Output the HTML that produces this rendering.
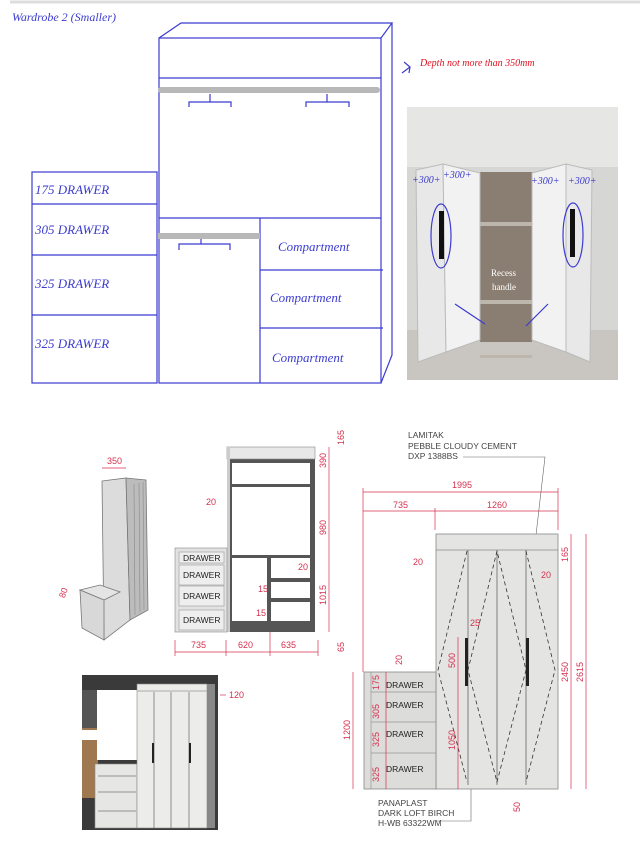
<!DOCTYPE html>
<html><head><meta charset="utf-8"><style>
html,body{margin:0;padding:0;background:#fff;}
svg{display:block}
</style></head><body>
<svg width="640" height="853" viewBox="0 0 640 853" xmlns="http://www.w3.org/2000/svg" font-family="Liberation Sans, sans-serif">
<rect width="640" height="853" fill="#fff"/>
<line x1="10" y1="2" x2="640" y2="2" stroke="#ddd" stroke-width="3"/>
<!-- Sketch -->
<g stroke="#3b3bd0" stroke-width="1.2" fill="none">
<rect x="159" y="38" width="222" height="345"/>
<polyline points="159,38 181,23 392,23 381,38"/>
<polyline points="392,23 392,355 381,383"/>
<line x1="159" y1="78" x2="381" y2="78"/>
<line x1="159" y1="218" x2="381" y2="218"/>
<line x1="260" y1="218" x2="260" y2="383"/>
<line x1="260" y1="270" x2="383" y2="270"/>
<line x1="260" y1="328" x2="383" y2="328"/>
<rect x="32" y="172" width="125" height="211"/>
<line x1="32" y1="204" x2="157" y2="204"/>
<line x1="32" y1="255" x2="157" y2="255"/>
<line x1="32" y1="315" x2="157" y2="315"/>
<path d="M189,107 v-5 h42 v5 M210,102 v-8"/>
<path d="M306,107 v-5 h43 v5 M327,102 v-8"/>
<path d="M179,250 v-6 h51 v6 M201,244 v-7"/>
<path d="M402,73 l8,-6 M404,62 l6,5 l-1,6"/>
</g>
<rect x="158" y="87" width="222" height="6" rx="3" fill="#b8b8b8"/>
<rect x="158" y="233" width="102" height="6" fill="#b8b8b8"/>
<g fill="#3b3bd0" font-size="13" font-family="Liberation Serif, serif" font-style="italic">
<text x="12" y="21" font-size="12">Wardrobe 2 (Smaller)</text>
<text x="35" y="194">175  DRAWER</text>
<text x="35" y="234">305  DRAWER</text>
<text x="35" y="288">325  DRAWER</text>
<text x="35" y="348">325  DRAWER</text>
<text x="278" y="251">Compartment</text>
<text x="270" y="302">Compartment</text>
<text x="272" y="362">Compartment</text>
</g>
<text x="420" y="66" fill="#e01020" font-size="10" font-style="italic" font-family="Liberation Serif, serif">Depth not more than 350mm</text>
<!-- Photo -->
<rect x="407" y="107" width="211" height="273" fill="#d6d6d4"/>
<rect x="407" y="107" width="211" height="60" fill="#e6e6e4"/>
<rect x="407" y="330" width="211" height="50" fill="#c9c6c2"/>
<rect x="480" y="172" width="52" height="170" fill="#8a7e72"/>
<g fill="#bdb6ad"><rect x="480" y="222" width="52" height="4"/><rect x="480" y="300" width="52" height="4"/><rect x="480" y="355" width="52" height="3"/></g>
<polygon points="416,170 443,164 446,352 418,362" fill="#e8e8e8" stroke="#bbb"/>
<polygon points="443,164 480,173 480,340 446,352" fill="#f2f2f2" stroke="#bbb"/>
<polygon points="532,173 566,164 566,352 532,340" fill="#f2f2f2" stroke="#bbb"/>
<polygon points="566,164 592,170 590,362 566,352" fill="#e8e8e8" stroke="#bbb"/>
<rect x="439" y="211" width="5" height="48" fill="#111"/>
<rect x="570" y="209" width="5" height="48" fill="#111"/>
<g stroke="#3b3bd0" fill="none" stroke-width="1.2"><ellipse cx="441" cy="236" rx="10" ry="32"/><ellipse cx="573" cy="235" rx="10" ry="32"/><path d="M455,304 l30,20 M548,304 l-22,22"/></g>
<g fill="#3b3bd0" font-size="10" font-style="italic" font-family="Liberation Serif, serif"><text x="412" y="183">+300+</text><text x="443" y="178">+300+</text><text x="531" y="184">+300+</text><text x="568" y="184">+300+</text></g>
<text x="491" y="276" fill="#fff" font-size="9" font-family="Liberation Serif, serif">Recess</text>
<text x="492" y="290" fill="#fff" font-size="9" font-family="Liberation Serif, serif">handle</text>

<!-- Isometric -->
<polygon points="102,481 126,478 130,620 104,640" fill="#dcdcdc" stroke="#777" stroke-width="0.8"/>
<polygon points="126,478 146,480 148,610 130,620" fill="#bcbcbc" stroke="#777" stroke-width="0.8"/>
<polygon points="80,590 100,585 120,592 104,600" fill="#e4e4e4" stroke="#777" stroke-width="0.8"/>
<polygon points="80,590 104,600 104,640 82,628" fill="#d8d8d8" stroke="#777" stroke-width="0.8"/>
<g stroke="#888" stroke-width="0.6"><line x1="134" y1="484" x2="135" y2="615"/><line x1="139" y1="483" x2="140" y2="612"/><line x1="143" y1="482" x2="144" y2="610"/></g>
<g fill="#d6304f" font-size="9"><text x="107" y="464">350</text><text x="60" y="596" transform="rotate(-70 64 594)">80</text></g>
<line x1="102" y1="468" x2="126" y2="468" stroke="#d6304f" stroke-width="0.7"/>

<!-- Middle elevation -->
<rect x="227" y="447" width="88" height="185" fill="#555"/>
<rect x="227" y="447" width="88" height="12" fill="#e8e8e8" stroke="#888" stroke-width="0.6"/>
<rect x="232" y="463" width="78" height="21" fill="#fff"/>
<rect x="232" y="487" width="78" height="68" fill="#fff"/>
<rect x="232" y="558" width="35" height="63" fill="#fff"/>
<rect x="271" y="558" width="39" height="20" fill="#fff"/>
<rect x="271" y="582" width="39" height="16" fill="#fff"/>
<rect x="271" y="602" width="39" height="19" fill="#fff"/>
<rect x="227" y="447" width="3" height="185" fill="#ccc"/>
<rect x="175" y="548" width="52" height="84" fill="#e2e2e2" stroke="#888" stroke-width="0.6"/>
<g fill="#eee" stroke="#999" stroke-width="0.6"><rect x="179" y="552" width="45" height="11"/><rect x="179" y="565" width="45" height="20"/><rect x="179" y="586" width="45" height="20"/><rect x="179" y="610" width="45" height="20"/></g>
<g font-size="8.5" fill="#222"><text x="183" y="561">DRAWER</text><text x="183" y="578">DRAWER</text><text x="183" y="599">DRAWER</text><text x="183" y="623">DRAWER</text></g>
<g stroke="#d6304f" stroke-width="0.7" fill="none"><line x1="175" y1="652" x2="318" y2="652"/><line x1="175" y1="640" x2="175" y2="656"/><line x1="226" y1="640" x2="226" y2="656"/><line x1="270" y1="632" x2="270" y2="656"/><line x1="318" y1="640" x2="318" y2="656"/><line x1="329" y1="447" x2="329" y2="632"/></g>
<g fill="#d6304f" font-size="9"><text x="191" y="648">735</text><text x="238" y="648">620</text><text x="281" y="648">635</text><text x="206" y="505">20</text><text x="298" y="570">20</text><text x="258" y="592">15</text><text x="256" y="616">15</text>
<text transform="translate(326,468) rotate(-90)">390</text><text transform="translate(326,535) rotate(-90)">980</text><text transform="translate(326,605) rotate(-90)">1015</text><text transform="translate(344,445) rotate(-90)">165</text><text transform="translate(344,652) rotate(-90)">65</text></g>

<!-- Right elevation -->
<g fill="#444" font-size="8.5"><text x="408" y="438">LAMITAK</text><text x="408" y="449">PEBBLE CLOUDY CEMENT</text><text x="408" y="459">DXP 1388BS</text><text x="378" y="806">PANAPLAST</text><text x="378" y="816">DARK LOFT BIRCH</text><text x="378" y="826">H-WB 63322WM</text></g>
<path d="M463,457 h82 l-9,78" stroke="#666" fill="none" stroke-width="0.6"/>
<path d="M437,821 h34 v-40" stroke="#666" fill="none" stroke-width="0.6"/>
<rect x="436" y="534" width="122" height="255" fill="#e4e4e2" stroke="#888" stroke-width="0.8"/>
<line x1="436" y1="550" x2="558" y2="550" stroke="#888" stroke-width="0.8"/>
<g stroke="#666" stroke-width="0.8"><line x1="468" y1="550" x2="468" y2="785"/><line x1="497" y1="550" x2="497" y2="785"/><line x1="526" y1="550" x2="526" y2="785"/></g>
<rect x="465" y="638" width="3" height="48" fill="#222"/><rect x="526" y="638" width="3" height="48" fill="#222"/>
<g stroke="#333" stroke-width="0.8" stroke-dasharray="4,3" fill="none"><polyline points="467,551 438,670 467,782"/><polyline points="497,551 468,670 497,782 526,670 497,551"/><polyline points="526,551 555,670 526,782"/></g>
<rect x="364" y="672" width="72" height="117" fill="#dcdcda" stroke="#888" stroke-width="0.8"/>
<g stroke="#999" stroke-width="0.7"><line x1="371" y1="692" x2="436" y2="692"/><line x1="371" y1="722" x2="436" y2="722"/><line x1="371" y1="753" x2="436" y2="753"/><line x1="371" y1="672" x2="371" y2="789"/></g>
<g font-size="8.5" fill="#222"><text x="386" y="688">DRAWER</text><text x="386" y="708">DRAWER</text><text x="386" y="737">DRAWER</text><text x="386" y="772">DRAWER</text></g>
<g stroke="#d6304f" stroke-width="0.7" fill="none"><line x1="363" y1="492" x2="558" y2="492"/><line x1="363" y1="511" x2="558" y2="511"/><line x1="363" y1="488" x2="363" y2="672"/><line x1="435" y1="508" x2="435" y2="530"/><line x1="558" y1="488" x2="558" y2="530"/><line x1="571" y1="534" x2="571" y2="789"/><line x1="586" y1="534" x2="586" y2="789"/><line x1="353" y1="672" x2="353" y2="789"/><line x1="458" y1="637" x2="458" y2="789"/><line x1="386" y1="672" x2="386" y2="789"/></g>
<g fill="#d6304f" font-size="9"><text x="452" y="488">1995</text><text x="393" y="508">735</text><text x="487" y="508">1260</text><text x="413" y="565">20</text><text x="541" y="578">20</text><text x="470" y="626">25</text>
<text transform="translate(568,562) rotate(-90)">165</text><text transform="translate(568,682) rotate(-90)">2450</text><text transform="translate(583,682) rotate(-90)">2615</text><text transform="translate(350,740) rotate(-90)">1200</text><text transform="translate(455,668) rotate(-90)">500</text><text transform="translate(455,750) rotate(-90)">1050</text><text transform="translate(402,665) rotate(-90)">20</text><text transform="translate(379,690) rotate(-90)">175</text><text transform="translate(379,719) rotate(-90)">305</text><text transform="translate(379,747) rotate(-90)">325</text><text transform="translate(379,782) rotate(-90)">325</text><text transform="translate(520,812) rotate(-90)">50</text></g>

<!-- Bottom-left render -->
<rect x="82" y="675" width="136" height="155" fill="#3a3a3a"/>
<rect x="82" y="690" width="16" height="50" fill="#555"/>
<rect x="82" y="728" width="16" height="70" fill="#a07850"/>
<rect x="82" y="730" width="16" height="10" fill="#fff"/>
<rect x="97" y="690" width="40" height="70" fill="#fff"/>
<rect x="95" y="764" width="42" height="64" fill="#e6e6e4" stroke="#888" stroke-width="0.6"/>
<g stroke="#777" stroke-width="0.8"><line x1="98" y1="776" x2="136" y2="776"/><line x1="98" y1="792" x2="136" y2="792"/><line x1="98" y1="811" x2="136" y2="811"/></g>
<rect x="137" y="684" width="70" height="144" fill="#ececea" stroke="#888" stroke-width="0.6"/>
<line x1="137" y1="691" x2="207" y2="691" stroke="#aaa"/>
<g stroke="#777" stroke-width="0.8"><line x1="154" y1="692" x2="154" y2="828"/><line x1="171" y1="692" x2="171" y2="828"/><line x1="189" y1="692" x2="189" y2="828"/></g>
<rect x="152" y="743" width="2" height="20" fill="#222"/><rect x="189" y="743" width="2" height="20" fill="#222"/>
<rect x="207" y="684" width="8" height="144" fill="#888"/>
<text x="229" y="698" fill="#d6304f" font-size="9">120</text>
<line x1="220" y1="695" x2="226" y2="695" stroke="#d6304f" stroke-width="0.7"/>
</svg>
</body></html>
